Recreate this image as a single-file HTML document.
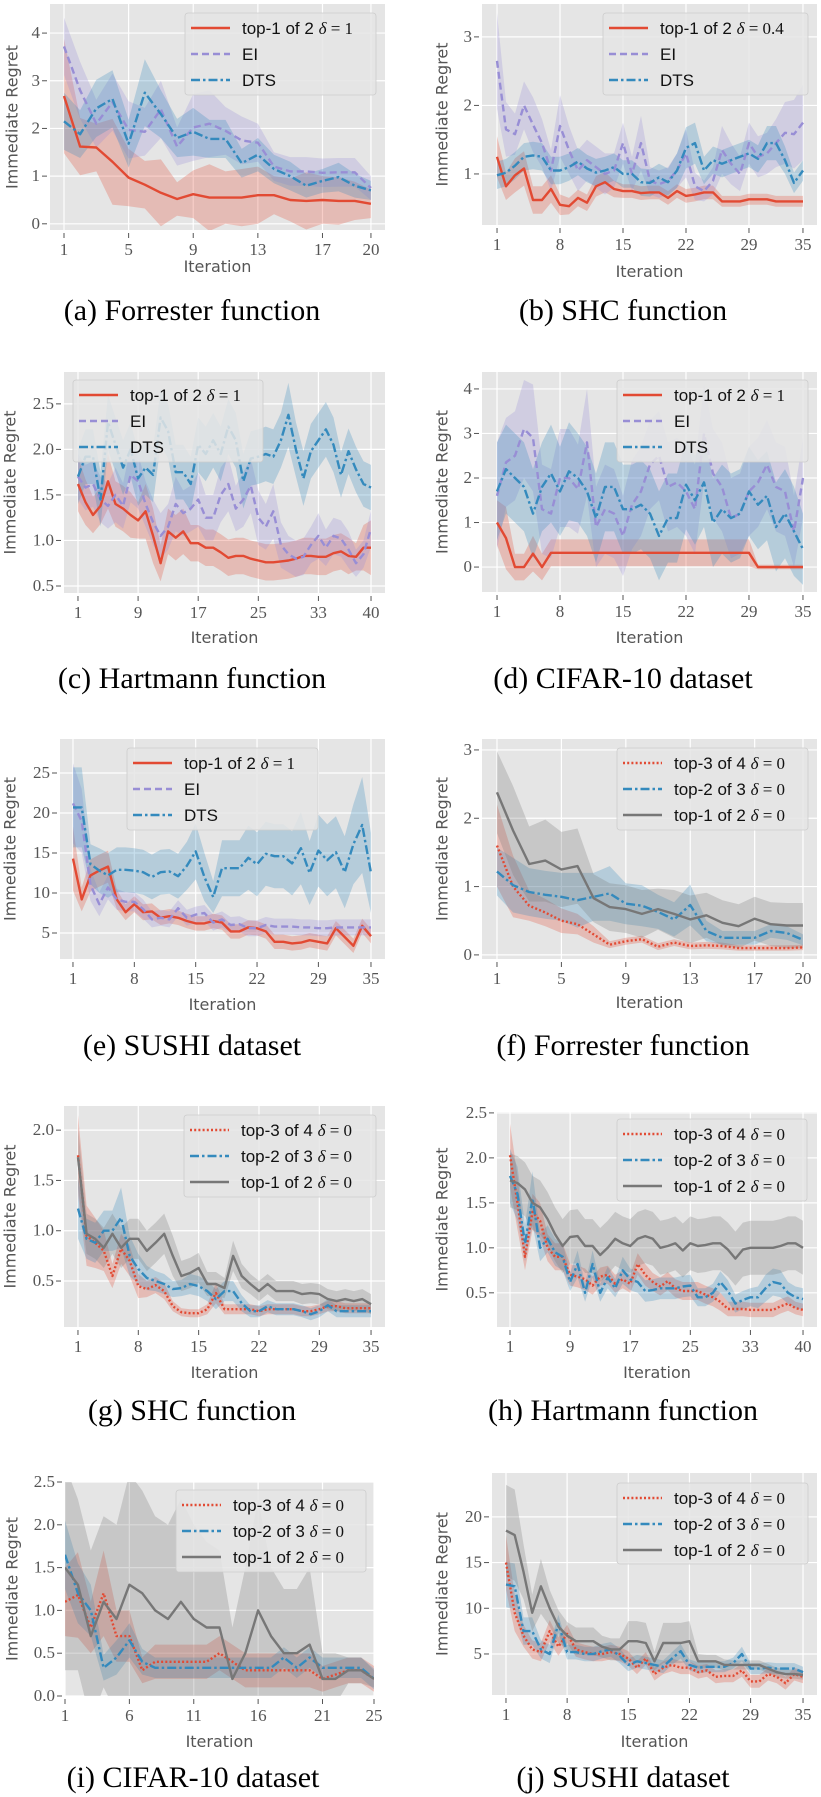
<!DOCTYPE html>
<html><head><meta charset="utf-8">
<style>
html,body{margin:0;padding:0;background:#fff;}
svg{display:block;}
</style></head>
<body>
<svg id="fig" width="821" height="1797" viewBox="0 0 821 1797" xmlns="http://www.w3.org/2000/svg"></svg>
<script>
// ---- data (a) Forrester ----
const aRed=[2.68,1.62,1.6,1.3,0.97,0.82,0.65,0.52,0.62,0.55,0.55,0.55,0.6,0.6,0.5,0.48,0.5,0.48,0.48,0.42];
const aRedHw=[1.2,0.6,0.5,0.9,0.6,0.5,0.7,0.35,0.5,0.7,0.55,0.6,0.6,0.4,0.45,0.6,0.5,0.5,0.4,0.3];
const aEI=[3.72,2.8,2.1,2.55,1.97,1.93,2.4,1.62,2.02,2.1,1.95,1.75,1.7,1.2,1.1,1.1,1.07,1.08,1.08,0.75];
const aEIHw=[0.6,0.6,0.5,0.6,0.6,0.5,0.6,0.4,0.7,0.7,0.5,0.5,0.4,0.3,0.3,0.3,0.3,0.3,0.3,0.25];
const aDTS=[2.15,1.88,2.42,2.62,1.68,2.75,2.3,1.8,1.93,1.78,1.78,1.27,1.45,1.15,1.0,0.8,0.9,0.98,0.8,0.7];
const aDTSHw=[0.6,0.5,0.6,0.6,0.5,0.7,0.5,0.4,0.5,0.4,0.4,0.3,0.35,0.3,0.3,0.25,0.25,0.3,0.25,0.2];
// ---- (b) SHC ----
const bRed=[1.25,0.82,0.98,1.08,0.62,0.62,0.78,0.55,0.53,0.65,0.58,0.82,0.88,0.78,0.75,0.75,0.72,0.73,0.73,0.65,0.75,0.68,0.7,0.73,0.73,0.6,0.6,0.6,0.63,0.63,0.63,0.6,0.6,0.6,0.6];
const bRedHw=[0.3,0.2,0.25,0.25,0.2,0.2,0.2,0.15,0.12,0.12,0.12,0.15,0.15,0.12,0.1,0.1,0.1,0.1,0.1,0.1,0.1,0.1,0.1,0.1,0.1,0.08,0.08,0.08,0.08,0.08,0.08,0.08,0.08,0.08,0.08];
const bEI=[2.65,1.65,1.58,2.0,1.72,1.45,1.05,1.7,1.35,1.05,1.2,1.1,1.0,1.05,1.45,1.0,1.45,0.9,0.85,0.9,1.05,1.3,0.82,0.75,0.9,1.35,1.15,1.0,1.45,1.25,1.3,1.45,1.6,1.58,1.75];
const bEIHw=[0.7,0.4,0.3,0.35,0.4,0.35,0.3,0.45,0.35,0.3,0.3,0.3,0.3,0.25,0.3,0.25,0.4,0.2,0.2,0.2,0.25,0.35,0.2,0.15,0.2,0.35,0.3,0.25,0.3,0.3,0.3,0.35,0.45,0.5,0.55];
const bDTS=[0.98,1.02,1.12,1.25,1.27,1.25,1.05,1.05,1.1,1.18,1.08,1.02,1.05,1.1,1.0,1.0,0.88,0.87,0.95,0.88,1.05,1.38,1.45,1.05,1.2,1.15,1.2,1.25,1.3,1.22,1.45,1.45,1.2,0.87,1.05];
const bDTSHw=[0.2,0.2,0.2,0.2,0.2,0.2,0.2,0.2,0.2,0.2,0.2,0.2,0.2,0.2,0.2,0.2,0.2,0.2,0.2,0.2,0.25,0.3,0.3,0.2,0.2,0.2,0.2,0.2,0.2,0.2,0.25,0.25,0.2,0.15,0.15];
// ---- (c) Hartmann ----
const cRed=[1.62,1.42,1.28,1.38,1.65,1.4,1.35,1.28,1.22,1.32,1.05,0.75,1.1,1.03,1.1,0.97,0.97,0.92,0.92,0.87,0.81,0.83,0.83,0.8,0.78,0.76,0.76,0.77,0.78,0.8,0.83,0.83,0.82,0.82,0.86,0.88,0.83,0.82,0.92,0.92];
const cRedHw=[0.3,0.25,0.2,0.2,0.3,0.25,0.25,0.25,0.2,0.3,0.3,0.2,0.25,0.25,0.25,0.2,0.2,0.2,0.2,0.2,0.2,0.2,0.2,0.2,0.2,0.2,0.2,0.2,0.2,0.2,0.2,0.2,0.2,0.2,0.2,0.2,0.2,0.15,0.25,0.3];
const cEI=[1.7,1.58,1.62,1.45,1.38,1.5,1.38,1.72,1.65,1.4,1.2,1.05,1.15,1.4,1.3,1.35,1.45,1.25,1.25,1.5,1.62,1.35,1.45,1.6,1.25,1.15,1.32,0.95,0.85,0.8,0.82,0.95,1.05,0.92,1.05,1.02,0.9,0.75,0.85,1.13];
const cEIHw=[0.25,0.25,0.25,0.25,0.25,0.3,0.25,0.3,0.3,0.25,0.25,0.25,0.25,0.3,0.25,0.25,0.3,0.25,0.25,0.3,0.3,0.25,0.3,0.3,0.3,0.25,0.3,0.25,0.2,0.2,0.2,0.2,0.25,0.2,0.2,0.2,0.2,0.15,0.15,0.2];
const cDTS=[1.7,1.92,1.92,1.45,2.3,2.05,1.8,2.0,1.68,1.8,1.72,2.35,2.2,1.75,1.75,1.62,2.05,1.95,2.1,1.95,2.25,2.1,1.65,1.9,1.92,1.95,1.92,2.1,2.38,2.0,1.68,1.98,2.1,2.22,2.05,1.72,1.98,1.78,1.62,1.58];
const cDTSHw=[0.3,0.3,0.3,0.3,0.3,0.3,0.3,0.3,0.3,0.3,0.3,0.3,0.3,0.3,0.3,0.3,0.3,0.3,0.3,0.3,0.3,0.3,0.3,0.3,0.3,0.3,0.3,0.3,0.35,0.3,0.3,0.3,0.3,0.3,0.3,0.25,0.25,0.25,0.25,0.25];
// ---- (d) CIFAR-10 ----
const dRed=[1.0,0.65,0,0,0.3,0,0.32,0.32,0.32,0.32,0.32,0.32,0.32,0.32,0.32,0.32,0.32,0.32,0.32,0.32,0.32,0.32,0.32,0.32,0.32,0.32,0.32,0.32,0.32,0,0,0,0,0,0];
const dRedHw=[0.5,0.7,0.3,0.3,0.4,0.3,0.3,0.3,0.3,0.3,0.3,0.3,0.3,0.3,0.3,0.3,0.3,0.3,0.3,0.3,0.3,0.3,0.3,0.3,0.3,0.3,0.3,0.3,0.3,0.05,0.05,0.05,0.05,0.05,0.05];
const dEI=[1.6,2.35,2.5,3.1,2.9,1.3,1.2,2.0,2.0,1.75,2.8,0.9,1.3,1.2,0.7,1.4,1.7,2.3,2.5,1.8,1.9,1.7,1.3,3.0,2.1,1.8,1.1,1.2,1.7,1.9,2.3,1.8,1.7,0.8,2.0];
const dEIHw=[1.2,1.0,1.0,1.1,1.2,1.0,1.0,1.1,1.1,1.0,1.2,0.9,1.0,1.0,0.9,1.0,1.0,1.0,1.0,1.0,1.0,1.0,1.0,1.1,1.0,1.0,0.9,0.9,1.0,1.0,1.0,1.0,1.0,0.8,0.9];
const dDTS=[1.7,2.2,2.0,1.8,1.2,1.8,2.1,1.7,2.15,2.0,1.7,1.1,1.8,1.8,1.3,1.3,1.4,1.2,0.7,1.1,1.1,1.85,1.5,1.9,1.0,1.3,1.1,1.2,1.7,1.4,1.6,0.9,1.2,0.8,0.4];
const dDTSHw=[1.1,1.0,1.0,1.0,1.0,1.0,1.1,1.0,1.1,1.0,1.0,1.0,1.0,1.0,1.0,1.0,1.0,1.0,1.0,1.0,1.0,1.0,1.0,1.0,1.0,1.0,1.0,1.0,1.0,1.0,1.0,1.0,1.0,1.0,0.8];
// ---- (e) SUSHI ----
const eRed=[14.3,9.2,12.2,12.8,13.3,9.2,7.6,8.6,7.6,7.7,6.9,7.1,6.9,6.5,6.2,6.2,6.5,6.3,5.2,5.2,5.7,5.6,5.2,3.9,3.9,3.7,3.8,4.1,3.9,3.7,5.6,4.5,3.4,5.9,4.6];
const eRedHw=[4,1.5,2,2,2,1.2,1,1,1,1,0.9,0.9,0.9,0.9,0.9,0.9,0.9,0.9,0.9,0.9,0.9,0.9,0.9,0.9,0.9,0.9,0.9,0.9,0.9,0.9,0.9,0.9,0.9,0.9,0.9];
const eEI=[21.2,19,11,8.6,10.7,9.2,8.9,8.9,8.0,6.7,6.9,6.7,8.1,6.9,7.3,7.5,6.3,6.7,6.0,6.1,5.6,5.6,6.0,5.8,5.8,5.8,5.7,5.7,5.6,5.6,5.7,5.7,5.7,5.7,5.7];
const eEIHw=[5,4,2,1.5,1.5,1.3,1.2,1.2,1.2,1,1,1,1,1,1,1,1,1,1,1,1,1,1,1,1,1,1,1,1,1,1,1,1,1,1];
const eDTS=[20.7,20.7,13.6,12.8,12.2,12.9,12.9,12.8,12.6,12.0,12.6,12.7,12.1,13.4,15.2,12.0,9.5,13.1,13.1,13.1,14.4,13.6,14.9,14.6,14.6,13.7,15.6,12.5,15.3,14.1,15.1,12.6,16.1,18.5,12.5];
const eDTSHw=[5,5,2.5,2.8,2.8,2.8,2.8,2.8,2.8,2.8,2.8,2.8,2.8,3,3.5,3,2,3.5,3.5,3.5,4,4,4,4,4,4,4.5,4,4.5,4.5,4.5,4.5,5,6,5];
// ---- (f) Forrester ----
const fT3=[1.6,1.0,0.72,0.62,0.5,0.45,0.3,0.15,0.2,0.23,0.12,0.18,0.13,0.14,0.13,0.1,0.1,0.1,0.1,0.11];
const fT3Hw=[0.6,0.45,0.22,0.2,0.18,0.15,0.12,0.05,0.05,0.05,0.05,0.05,0.05,0.05,0.05,0.04,0.04,0.04,0.04,0.04];
const fT2=[1.22,1.02,0.92,0.88,0.85,0.8,0.85,0.9,0.75,0.72,0.63,0.52,0.73,0.35,0.25,0.25,0.25,0.35,0.32,0.22];
const fT2Hw=[0.35,0.4,0.35,0.35,0.35,0.4,0.35,0.4,0.3,0.3,0.25,0.25,0.3,0.15,0.1,0.1,0.1,0.1,0.1,0.08];
const fT1=[2.38,1.82,1.33,1.38,1.25,1.3,0.83,0.7,0.67,0.6,0.67,0.6,0.52,0.58,0.47,0.42,0.53,0.45,0.43,0.43];
const fT1Hw=[0.6,0.65,0.55,0.6,0.55,0.55,0.35,0.35,0.35,0.35,0.3,0.35,0.35,0.33,0.33,0.32,0.32,0.32,0.33,0.33];
// ---- (g) SHC ----
const gT3=[1.75,0.95,0.88,0.8,0.55,0.82,0.7,0.45,0.42,0.46,0.4,0.25,0.19,0.18,0.18,0.22,0.38,0.22,0.22,0.22,0.22,0.2,0.22,0.22,0.22,0.22,0.2,0.2,0.22,0.25,0.25,0.23,0.23,0.23,0.23];
const gT3Hw=[0.4,0.3,0.25,0.2,0.12,0.15,0.15,0.12,0.08,0.08,0.08,0.05,0.04,0.04,0.04,0.05,0.1,0.05,0.05,0.05,0.05,0.05,0.05,0.05,0.05,0.05,0.05,0.05,0.05,0.05,0.05,0.05,0.05,0.05,0.05];
const gT2=[1.22,0.92,0.88,1.0,1.0,1.13,0.75,0.62,0.53,0.5,0.47,0.42,0.43,0.47,0.45,0.4,0.32,0.4,0.4,0.28,0.2,0.2,0.25,0.22,0.22,0.22,0.2,0.17,0.2,0.26,0.2,0.2,0.2,0.2,0.2];
const gT2Hw=[0.3,0.2,0.2,0.2,0.2,0.3,0.2,0.15,0.12,0.1,0.1,0.08,0.08,0.1,0.1,0.1,0.1,0.1,0.1,0.08,0.06,0.06,0.06,0.06,0.06,0.06,0.06,0.06,0.06,0.06,0.06,0.06,0.06,0.06,0.06];
const gT1=[1.73,0.97,0.92,0.83,0.97,0.83,0.92,0.92,0.8,0.88,0.97,0.75,0.55,0.58,0.63,0.47,0.47,0.43,0.75,0.55,0.47,0.4,0.47,0.4,0.4,0.4,0.37,0.38,0.37,0.32,0.3,0.32,0.3,0.32,0.27];
const gT1Hw=[0.3,0.2,0.2,0.2,0.2,0.2,0.2,0.2,0.2,0.2,0.2,0.2,0.15,0.15,0.15,0.12,0.12,0.1,0.15,0.12,0.1,0.1,0.1,0.1,0.1,0.1,0.1,0.1,0.1,0.1,0.1,0.1,0.1,0.1,0.1];
// ---- (h) Hartmann ----
const hT3=[2.03,1.5,0.9,1.4,1.3,1.0,0.9,0.9,0.7,0.68,0.65,0.58,0.68,0.7,0.6,0.65,0.6,0.82,0.7,0.62,0.57,0.63,0.55,0.52,0.52,0.52,0.48,0.45,0.4,0.32,0.32,0.32,0.31,0.31,0.31,0.31,0.35,0.38,0.33,0.31];
const hT3Hw=[0.35,0.3,0.15,0.2,0.2,0.15,0.15,0.15,0.12,0.12,0.12,0.1,0.1,0.1,0.1,0.1,0.1,0.12,0.12,0.1,0.1,0.1,0.1,0.1,0.1,0.1,0.1,0.1,0.1,0.08,0.08,0.08,0.08,0.08,0.08,0.08,0.08,0.08,0.07,0.07];
const hT2=[1.8,1.6,1.05,1.55,1.0,1.1,0.95,0.9,0.62,0.82,0.5,0.82,0.5,0.67,0.55,0.75,0.65,0.62,0.52,0.53,0.55,0.55,0.55,0.57,0.58,0.45,0.45,0.5,0.62,0.52,0.38,0.42,0.45,0.45,0.55,0.62,0.6,0.5,0.45,0.43];
const hT2Hw=[0.3,0.3,0.2,0.3,0.15,0.15,0.15,0.15,0.1,0.15,0.1,0.15,0.1,0.12,0.1,0.15,0.12,0.12,0.12,0.12,0.12,0.12,0.12,0.12,0.12,0.1,0.1,0.1,0.12,0.12,0.1,0.1,0.1,0.12,0.15,0.15,0.15,0.12,0.12,0.12];
const hT1=[1.75,1.72,1.65,1.5,1.45,1.32,1.15,1.02,1.12,1.13,1.02,1.02,0.92,1.0,1.1,1.05,1.02,1.1,1.13,1.1,1.0,1.02,1.05,0.97,1.05,1.02,1.03,1.05,1.05,0.98,0.88,0.98,1.0,1.0,1.0,1.0,1.02,1.05,1.05,1.0];
const hT1Hw=[0.3,0.3,0.3,0.3,0.3,0.3,0.3,0.3,0.3,0.3,0.3,0.3,0.3,0.3,0.3,0.3,0.3,0.3,0.3,0.3,0.3,0.3,0.3,0.3,0.3,0.3,0.3,0.3,0.3,0.3,0.3,0.3,0.3,0.3,0.3,0.3,0.3,0.3,0.3,0.3];
// ---- (i) CIFAR-10 ----
const iT3=[1.1,1.18,0.8,1.2,0.7,0.7,0.3,0.4,0.4,0.4,0.4,0.4,0.5,0.4,0.3,0.3,0.3,0.3,0.3,0.3,0.2,0.25,0.3,0.3,0.2];
const iT3Hw=[0.4,0.5,0.3,0.5,0.3,0.3,0.15,0.2,0.2,0.2,0.2,0.2,0.2,0.2,0.2,0.2,0.2,0.2,0.2,0.2,0.15,0.15,0.15,0.15,0.15];
const iT2=[1.65,1.2,1.0,0.33,0.45,0.65,0.4,0.33,0.33,0.33,0.33,0.33,0.33,0.33,0.33,0.33,0.33,0.45,0.33,0.45,0.33,0.33,0.33,0.33,0.2];
const iT2Hw=[0.4,0.35,0.3,0.15,0.2,0.2,0.15,0.12,0.12,0.12,0.12,0.12,0.12,0.12,0.12,0.12,0.12,0.12,0.12,0.12,0.12,0.12,0.12,0.12,0.12];
const iT1=[1.5,1.3,0.7,1.1,0.9,1.3,1.2,1.0,0.9,1.1,0.9,0.8,0.8,0.2,0.5,1.0,0.7,0.5,0.5,0.6,0.2,0.2,0.3,0.3,0.2];
const iT1Hw=[1.2,1.0,1.0,1.0,1.1,1.3,1.2,1.1,1.1,1.2,1.1,1.0,0.9,0.6,1.0,1.3,0.8,0.75,0.75,0.9,0.3,0.3,0.15,0.15,0.1];
// ---- (j) SUSHI ----
const jT3=[15.0,9.5,7.0,5.5,5.2,7.5,5.8,7.2,5.5,5.2,5.0,5.0,5.2,5.0,4.5,3.5,4.5,2.8,3.5,3.8,3.5,3.5,3.0,3.2,2.5,2.6,2.6,3.2,2.0,2.0,2.8,2.5,1.8,2.8,2.5];
const jT3Hw=[3,2,1.2,1,1,1.2,1,1,0.8,0.8,0.8,0.8,0.8,0.8,0.8,0.7,0.7,0.7,0.7,0.7,0.7,0.7,0.7,0.7,0.7,0.7,0.7,0.7,0.7,0.7,0.7,0.7,0.7,0.7,0.7];
const jT2=[12.6,12.4,7.5,7.5,5.5,5.0,8.3,5.2,5.2,5.0,5.0,5.3,5.5,4.8,3.8,4.2,4.0,3.8,3.6,4.5,5.3,3.8,3.5,3.6,3.6,3.6,4.0,5.0,3.4,3.4,3.5,3.4,3.4,3.4,3.0];
const jT2Hw=[2.5,2.5,1.5,1.5,1,1,1,0.8,0.8,0.8,0.8,0.8,0.8,0.8,0.7,0.7,0.7,0.7,0.7,0.7,0.8,0.6,0.6,0.6,0.6,0.6,0.6,0.8,0.6,0.6,0.6,0.6,0.6,0.6,0.6];
const jT1=[18.5,18.0,14.0,9.5,12.4,10.0,8.0,7.0,6.4,6.4,6.4,5.8,5.5,5.5,6.4,6.4,6.2,4.2,6.2,6.2,6.2,6.4,4.2,4.2,4.2,3.8,3.8,3.8,3.8,3.8,3.4,3.0,2.8,2.8,2.7];
const jT1Hw=[5,5,3,2,3,2,1.8,1.5,1.5,1.5,1.5,1.2,1.2,1.2,2.2,2.2,2.2,1,2.2,2.2,2.2,2.2,0.8,0.7,0.7,0.6,0.5,0.5,0.5,0.5,0.5,0.5,0.5,0.5,0.5];

// tick label arrays
const xt20=[1,5,9,13,17,20], xt35=[1,8,15,22,29,35], xt40=[1,9,17,25,33,40], xt25=[1,6,11,16,21,25];
const ytA=['0','1','2','3','4'], ytB=['1','2','3'], ytC=['0.5','1.0','1.5','2.0','2.5'], ytD=['0','1','2','3','4'];
const ytE=['5','10','15','20','25'], ytF=['0','1','2','3'], ytG=['0.5','1.0','1.5','2.0'], ytH=['0.5','1.0','1.5','2.0','2.5'];
const ytI=['0.0','0.5','1.0','1.5','2.0','2.5'], ytJ=['5','10','15','20'];

const RED='#e24a33', PUR='#988ed5', BLU='#348abd', GRY='#777777';
const S_SOLID='', S_DASH='7,4', S_DD='9,3,2.5,3', S_DOT='2,2.2';
const NS='http://www.w3.org/2000/svg';
const svg=document.getElementById('fig');

function mk(tag,attrs,parent){const e=document.createElementNS(NS,tag);for(const k in attrs)e.setAttribute(k,attrs[k]);(parent||svg).appendChild(e);return e;}

const panels=[
 {id:'a',cap:'(a) Forrester function',r:[50,385,4,230],xd:[0.134,20.87],yd:[-0.13,4.61],xt:xt20,yt:ytA,itY:272,capX:192,capY:320,ylx:12,
  series:[{m:aRed,h:aRedHw,c:RED,d:S_SOLID,lab:['top-1 of 2 ','δ',' = 1']},{m:aEI,h:aEIHw,c:PUR,d:S_DASH,lab:['EI']},{m:aDTS,h:aDTSHw,c:BLU,d:S_DD,lab:['DTS']}],
  leg:[185,13,191,82]},
 {id:'b',cap:'(b) SHC function',r:[482,817,4,225],xd:[-0.67,36.56],yd:[0.255,3.48],xt:xt35,yt:ytB,itY:277,capX:623,capY:320,ylx:442,
  series:[{m:bRed,h:bRedHw,c:RED,d:S_SOLID,lab:['top-1 of 2 ','δ',' = 0.4']},{m:bEI,h:bEIHw,c:PUR,d:S_DASH,lab:['EI']},{m:bDTS,h:bDTSHw,c:BLU,d:S_DD,lab:['DTS']}],
  leg:[603,13,205,82]},
 {id:'c',cap:'(c) Hartmann function',r:[64,385,372,593],xd:[-0.86,41.86],yd:[0.423,2.85],xt:xt40,yt:ytC,itY:643,capX:192,capY:688,ylx:10,
  series:[{m:cRed,h:cRedHw,c:RED,d:S_SOLID,lab:['top-1 of 2 ','δ',' = 1']},{m:cEI,h:cEIHw,c:PUR,d:S_DASH,lab:['EI']},{m:cDTS,h:cDTSHw,c:BLU,d:S_DD,lab:['DTS']}],
  leg:[73,380,190,82]},
 {id:'d',cap:'(d) CIFAR-10 dataset',r:[482,817,372,592],xd:[-0.67,36.56],yd:[-0.56,4.38],xt:xt35,yt:ytD,itY:643,capX:623,capY:688,ylx:442,
  series:[{m:dRed,h:dRedHw,c:RED,d:S_SOLID,lab:['top-1 of 2 ','δ',' = 1']},{m:dEI,h:dEIHw,c:PUR,d:S_DASH,lab:['EI']},{m:dDTS,h:dDTSHw,c:BLU,d:S_DD,lab:['DTS']}],
  leg:[617,380,191,82]},
 {id:'e',cap:'(e) SUSHI dataset',r:[60,385,739,959],xd:[-0.48,36.6],yd:[1.75,29.25],xt:xt35,yt:ytE,itY:1010,capX:192,capY:1055,ylx:10,
  series:[{m:eRed,h:eRedHw,c:RED,d:S_SOLID,lab:['top-1 of 2 ','δ',' = 1']},{m:eEI,h:eEIHw,c:PUR,d:S_DASH,lab:['EI']},{m:eDTS,h:eDTSHw,c:BLU,d:S_DD,lab:['DTS']}],
  leg:[127,748,191,82]},
 {id:'f',cap:'(f) Forrester function',r:[482,817,739,959],xd:[0.07,20.87],yd:[-0.06,3.16],xt:xt20,yt:ytF,itY:1008,capX:623,capY:1055,ylx:442,
  series:[{m:fT3,h:fT3Hw,c:RED,d:S_DOT,lab:['top-3 of 4 ','δ',' = 0']},{m:fT2,h:fT2Hw,c:BLU,d:S_DD,lab:['top-2 of 3 ','δ',' = 0']},{m:fT1,h:fT1Hw,c:GRY,d:S_SOLID,lab:['top-1 of 2 ','δ',' = 0']}],
  leg:[617,748,191,82]},
 {id:'g',cap:'(g) SHC function',r:[64,385,1106,1327],xd:[-0.62,36.62],yd:[0.043,2.24],xt:xt35,yt:ytG,itY:1378,capX:192,capY:1420,ylx:10,
  series:[{m:gT3,h:gT3Hw,c:RED,d:S_DOT,lab:['top-3 of 4 ','δ',' = 0']},{m:gT2,h:gT2Hw,c:BLU,d:S_DD,lab:['top-2 of 3 ','δ',' = 0']},{m:gT1,h:gT1Hw,c:GRY,d:S_SOLID,lab:['top-1 of 2 ','δ',' = 0']}],
  leg:[184,1115,192,82]},
 {id:'h',cap:'(h) Hartmann function',r:[497,817,1112,1327],xd:[-0.73,41.86],yd:[0.12,2.51],xt:xt40,yt:ytH,itY:1378,capX:623,capY:1420,ylx:442,
  series:[{m:hT3,h:hT3Hw,c:RED,d:S_DOT,lab:['top-3 of 4 ','δ',' = 0']},{m:hT2,h:hT2Hw,c:BLU,d:S_DD,lab:['top-2 of 3 ','δ',' = 0']},{m:hT1,h:hT1Hw,c:GRY,d:S_SOLID,lab:['top-1 of 2 ','δ',' = 0']}],
  leg:[617,1119,190,82]},
 {id:'i',cap:'(i) CIFAR-10 dataset',r:[65,374,1482,1696],xd:[1,25],yd:[0,2.5],xt:xt25,yt:ytI,itY:1747,capX:193,capY:1787,ylx:12,
  series:[{m:iT3,h:iT3Hw,c:RED,d:S_DOT,lab:['top-3 of 4 ','δ',' = 0']},{m:iT2,h:iT2Hw,c:BLU,d:S_DD,lab:['top-2 of 3 ','δ',' = 0']},{m:iT1,h:iT1Hw,c:GRY,d:S_SOLID,lab:['top-1 of 2 ','δ',' = 0']}],
  leg:[176,1490,190,82]},
 {id:'j',cap:'(j) SUSHI dataset',r:[492,817,1473,1695],xd:[-0.6,36.6],yd:[0.51,24.8],xt:xt35,yt:ytJ,itY:1747,capX:623,capY:1787,ylx:442,
  series:[{m:jT3,h:jT3Hw,c:RED,d:S_DOT,lab:['top-3 of 4 ','δ',' = 0']},{m:jT2,h:jT2Hw,c:BLU,d:S_DD,lab:['top-2 of 3 ','δ',' = 0']},{m:jT1,h:jT1Hw,c:GRY,d:S_SOLID,lab:['top-1 of 2 ','δ',' = 0']}],
  leg:[617,1483,191,81]}
];

const defs=mk('defs',{});
panels.forEach(p=>{
  const [x0,x1,y0,y1]=p.r;
  const X=v=>x0+(v-p.xd[0])/(p.xd[1]-p.xd[0])*(x1-x0);
  const Y=v=>y1-(v-p.yd[0])/(p.yd[1]-p.yd[0])*(y1-y0);
  const g=mk('g',{});
  
  
  const bg=mk('rect',{x:x0,y:y0,width:x1-x0,height:y1-y0,fill:'#e5e5e5'},g);
  
  
  const cp=mk('clipPath',{id:'clip-'+p.id},defs);
  mk('rect',{x:x0,y:y0,width:x1-x0,height:y1-y0},cp);
  p.xt.forEach(t=>{
    const x=X(t);
    const gl=mk('line',{x1:x,x2:x,y1:y0,y2:y1,stroke:'#fff','stroke-width':1.2},g);
    
    
    mk('line',{x1:x,x2:x,y1:y1+3,y2:y1+8,stroke:'#555','stroke-width':1},g);
    const tl=mk('text',{x:x,y:y1+25,'text-anchor':'middle','font-family':'"Liberation Serif",serif','font-size':17,fill:'#555'},g);
    tl.textContent=t;
    
    
  });
  p.yt.forEach(t=>{
    const v=parseFloat(t), y=Y(v);
    const gl=mk('line',{x1:x0,x2:x1,y1:y,y2:y,stroke:'#fff','stroke-width':1.2},g);
    
    
    mk('line',{x1:x0-8,x2:x0-3,y1:y,y2:y,stroke:'#555','stroke-width':1},g);
    const tl=mk('text',{x:x0-10,y:y+5,'text-anchor':'end','font-family':'"Liberation Serif",serif','font-size':17,fill:'#555'},g);
    tl.textContent=t;
    
    
  });
  const sg=mk('g',{'clip-path':'url(#clip-'+p.id+')'},g);
  p.series.forEach((s,si)=>{
    const n=s.m.length;
    let up='',dn='';
    for(let k=0;k<n;k++){up+=(k?'L':'M')+X(k+1).toFixed(1)+','+Y(s.m[k]+s.h[k]).toFixed(1);}
    for(let k=n-1;k>=0;k--){dn+='L'+X(k+1).toFixed(1)+','+Y(s.m[k]-s.h[k]).toFixed(1);}
    const band=mk('path',{d:up+dn+'Z',fill:s.c,'fill-opacity':0.27,stroke:'none'},sg);
    
    
  });
  p.series.forEach((s,si)=>{
    let d='';
    s.m.forEach((v,k)=>{d+=(k?'L':'M')+X(k+1).toFixed(1)+','+Y(v).toFixed(1);});
    const ln=mk('path',{d:d,fill:'none',stroke:s.c,'stroke-width':2.4,'stroke-dasharray':s.d,'stroke-linejoin':'round'},sg);
    
    
  });
  const [lx,ly,lw,lh]=p.leg;
  const lg=mk('g',{},g);
  
  
  mk('rect',{x:lx,y:ly,width:lw,height:lh,rx:3,fill:'#e5e5e5','fill-opacity':0.85,stroke:'#cccccc','stroke-width':0.8},lg);
  p.series.forEach((s,si)=>{
    const yy=ly+15+si*26;
    mk('line',{x1:lx+6,x2:lx+45,y1:yy,y2:yy,stroke:s.c,'stroke-width':2.4,'stroke-dasharray':s.d},lg);
    const t=mk('text',{x:lx+57,y:yy+6,'font-family':'"Liberation Sans",sans-serif','font-size':17,fill:'#111'},lg);
    
    
    s.lab.forEach((part,pi)=>{
      const ts=mk('tspan',{},t);
      if(part==='δ'){ts.setAttribute('font-family','"Liberation Serif",serif');ts.setAttribute('font-style','italic');}
      else if(pi===2){ts.setAttribute('font-family','"Liberation Serif",serif');}
      ts.textContent=part;
    });
  });
  const xl=mk('text',{x:(x0+x1)/2,y:p.itY,'text-anchor':'middle','font-family':'"DejaVu Sans","Liberation Sans",sans-serif','font-size':16,fill:'#555'},g);
  xl.textContent='Iteration';
  
  
  const yc=(y0+y1)/2;
  const yl=mk('text',{x:p.ylx,y:yc,'text-anchor':'middle','dominant-baseline':'central','font-family':'"DejaVu Sans","Liberation Sans",sans-serif','font-size':16,fill:'#555',transform:'rotate(-90 '+p.ylx+' '+yc+')'},g);
  yl.textContent='Immediate Regret';
  
  
  const cap=mk('text',{x:p.capX,y:p.capY,'text-anchor':'middle','font-family':'"Liberation Serif",serif','font-size':30,fill:'#000'},g);
  cap.textContent=p.cap;
  
  
});
</script>
</body></html>
